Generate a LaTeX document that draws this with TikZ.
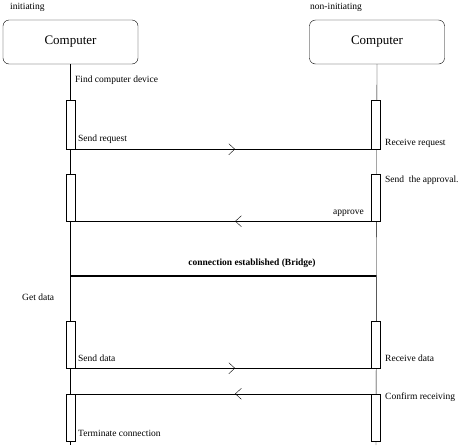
\documentclass[tikz,border=0pt]{standalone}
\usepackage{fontspec}
\setmainfont{Liberation Serif}
\usetikzlibrary{arrows.meta,decorations.markings}
\begin{document}
\begin{tikzpicture}[x=1pt,y=-1pt,
  box/.style={draw,rounded corners=6pt,minimum width=135pt,minimum height=44pt,font=\fontsize{13}{15}\selectfont},
  bar/.style={draw,fill=white,minimum width=9pt,inner sep=0pt},
  lbl/.style={font=\fontsize{9.5}{11}\selectfont,inner sep=0pt,anchor=west},
  msg/.style={postaction={decorate},decoration={markings,mark=at position #1 with {\arrow{Straight Barb[length=6pt,width=11pt]}}}},
  msg/.default=0.54]
\useasboundingbox (0,0) rectangle (474,445);
\node[lbl] (i) at (10,7) {initiating};
\node[lbl] (n) at (310,7) {non-initiating};
\node[box] (L) at (70.5,42) {Computer};
\node[box] (R) at (377,42) {Computer};
\coordinate (Le) at (70.5,445);
\coordinate (Re) at (376,445);
\draw (L.south) -- (Le);
\draw (R.south) -- (Re);
\foreach \n/\a/\b in {1/100/149,2/174/221,3/321/368,4/394/441}{
  \node[bar,minimum height=\b-\a] (l\n) at (70.5,{(\a+\b)/2}) {};
  \node[bar,minimum height=\b-\a] (r\n) at (376,{(\a+\b)/2}) {};
}
\draw[msg] (l1.south east) -- (r1.south west);
\draw[msg=0.46] (r2.south west) -- (l2.south east);
\coordinate (tl) at (70.5,276); \coordinate (tr) at (376,276);
\draw[line width=1.5pt] (tl) -- (tr);
\draw[msg] (l3.south east) -- (r3.south west);
\draw[msg=0.46] (r4.north west) -- (l4.north east);
\node[lbl] at (75,80) {Find computer device};
\node[lbl] at (78,139) {Send request};
\node[lbl] at (385,143) {Receive request};
\node[lbl] at (385,180) {Send \ the approval.};
\node[lbl] at (333,213) {approve};
\node[font=\fontsize{9.5}{11}\selectfont\bfseries,inner sep=0pt] at (252,263) {connection established (Bridge)};
\node[lbl] at (22,297) {Get data};
\node[lbl] at (78,358) {Send data};
\node[lbl] at (385,358) {Receive data};
\node[lbl] at (385,397) {Confirm receiving};
\node[lbl] at (78,433) {Terminate connection};
\end{tikzpicture}
\end{document}
